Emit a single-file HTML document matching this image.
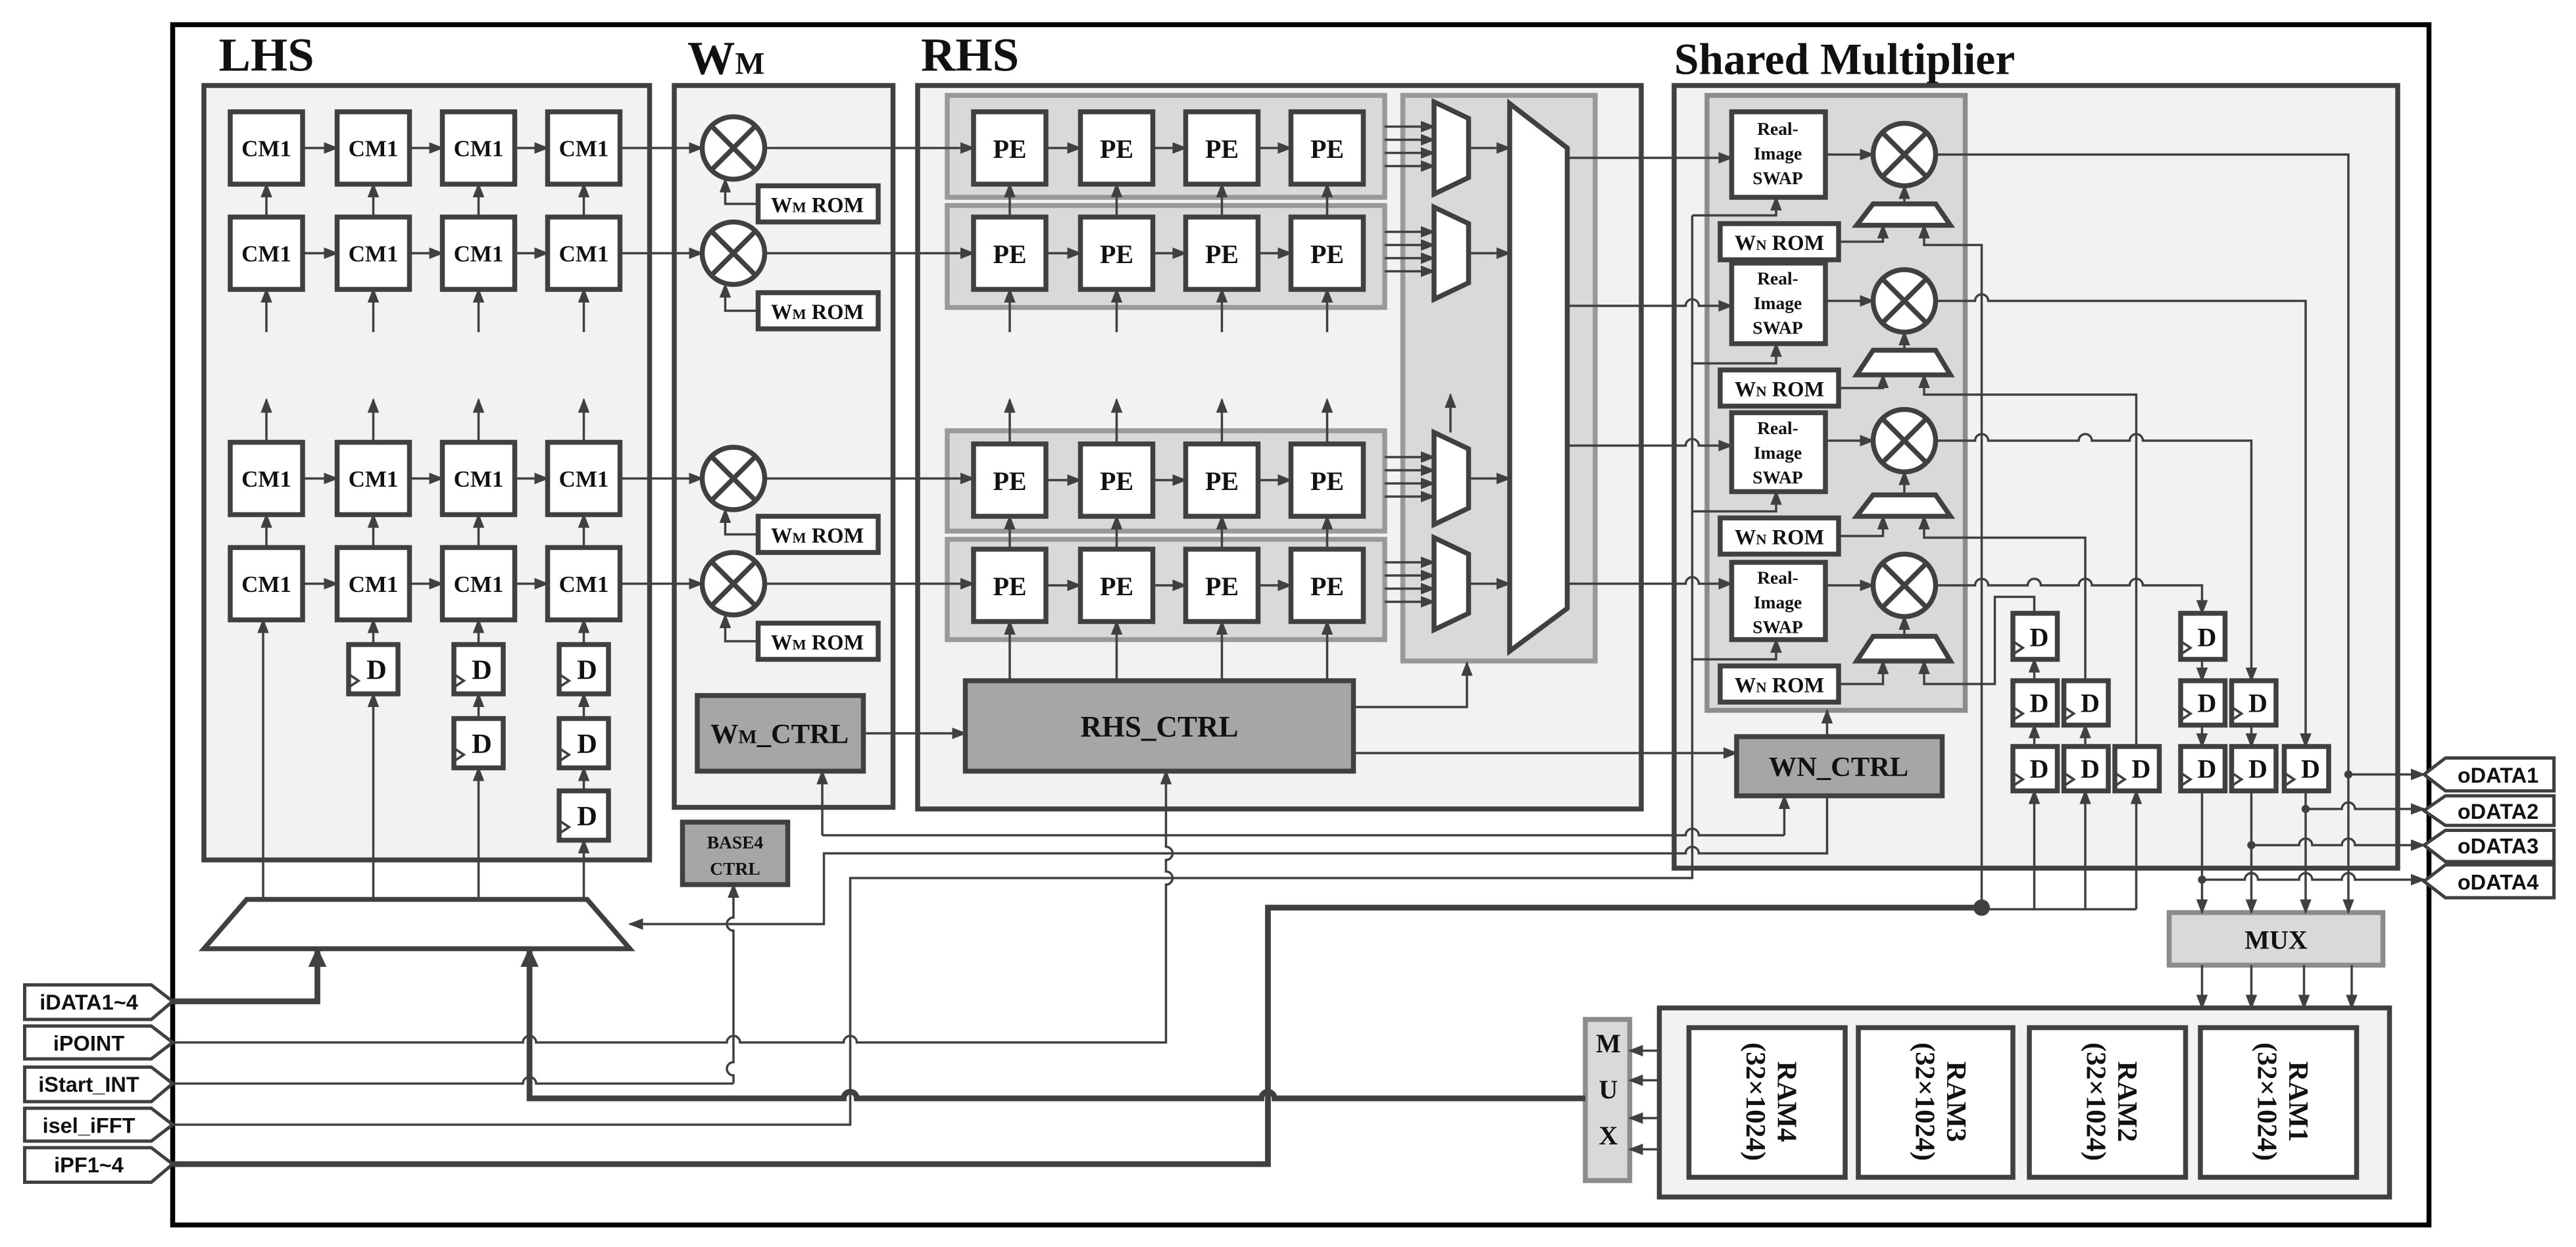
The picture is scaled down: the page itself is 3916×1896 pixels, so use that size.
<!DOCTYPE html>
<html><head><meta charset="utf-8"><style>
html,body{margin:0;padding:0;background:#fff}
svg{display:block}
text{font-family:"Liberation Serif",serif;font-weight:bold;fill:#111}
.s{font-family:"Liberation Sans",sans-serif}
</style></head><body>
<svg width="3916" height="1896" viewBox="0 0 1566.4 758.4" xmlns="http://www.w3.org/2000/svg">
<defs>
<marker id="a" markerWidth="9" markerHeight="8" refX="8" refY="4" orient="auto" markerUnits="userSpaceOnUse"><path d="M0,0.5 L9,4 L0,7.5 z" fill="#404040"/></marker>
<marker id="b" markerWidth="12" markerHeight="12" refX="11" refY="6" orient="auto" markerUnits="userSpaceOnUse"><path d="M0,0.5 L12,6 L0,11.5 z" fill="#404040"/></marker>
</defs>
<rect x="105" y="15" width="1372" height="730" fill="#fff" stroke="#000" stroke-width="3"/>
<text x="133" y="43" font-size="29">LHS</text>
<text x="418" y="45" font-size="29">W<tspan font-size="19">M</tspan></text>
<text x="560" y="43" font-size="29">RHS</text>
<text x="1018" y="45" font-size="27">Shared Multiplier</text>

<g stroke="#404040" stroke-width="3" fill="#f2f2f2">
<rect x="124" y="52" width="271" height="471"/>
<rect x="410" y="52" width="133" height="439"/>
<rect x="558" y="52" width="440" height="440"/>
<rect x="1018" y="52" width="440" height="476"/>
<rect x="1009" y="613" width="444" height="115"/>
</g>
<g stroke="#999" stroke-width="3" fill="#d9d9d9">
<rect x="576" y="58" width="266" height="62"/>
<rect x="576" y="125" width="266" height="62"/>
<rect x="576" y="262" width="266" height="61"/>
<rect x="576" y="328" width="266" height="61"/>
<rect x="853" y="58" width="117" height="344"/>
<rect x="1038" y="58" width="157" height="374" stroke="#8c8c8c"/>
<rect x="1319" y="555" width="130" height="32" stroke="#8c8c8c"/>
<rect x="964" y="620" width="27" height="98" stroke="#8c8c8c"/>
</g>

<g stroke="#404040" stroke-width="1.4" fill="none" marker-end="url(#a)">
<path d="M184,90H205"/><path d="M249,90H269"/><path d="M313,90H333"/>
<path d="M184,154H205"/><path d="M249,154H269"/><path d="M313,154H333"/>
<path d="M184,291H205"/><path d="M249,291H269"/><path d="M313,291H333"/>
<path d="M184,355H205"/><path d="M249,355H269"/><path d="M313,355H333"/>
<path d="M162,132V112"/><path d="M227,132V112"/><path d="M291,132V112"/><path d="M355,132V112"/>
<path d="M162,202V176"/><path d="M227,202V176"/><path d="M291,202V176"/><path d="M355,202V176"/>
<path d="M162,269V243"/><path d="M227,269V243"/><path d="M291,269V243"/><path d="M355,269V243"/>
<path d="M162,333V313"/><path d="M227,333V313"/><path d="M291,333V313"/><path d="M355,333V313"/>
<path d="M160,547V377"/><path d="M227,547V422"/><path d="M227,392V377"/>
<path d="M291,547V467"/><path d="M291,437V422"/><path d="M291,392V377"/>
<path d="M355,547V511"/><path d="M355,481V467"/><path d="M355,437V422"/><path d="M355,392V377"/>
<path d="M377,90H427"/><path d="M377,154H427"/><path d="M377,291H427"/><path d="M377,355H427"/>
<path d="M461,124H441V109"/><path d="M461,189H441V173"/><path d="M461,325H441V310"/><path d="M461,390H441V374"/>
<path d="M465,90H592"/><path d="M465,154H592"/><path d="M465,291H592"/><path d="M465,355H592"/>
<path d="M636,90H657"/><path d="M701,90H721"/><path d="M765,90H785"/>
<path d="M636,154H657"/><path d="M701,154H721"/><path d="M765,154H785"/>
<path d="M636,292H657"/><path d="M701,292H721"/><path d="M765,292H785"/>
<path d="M636,356H657"/><path d="M701,356H721"/><path d="M765,356H785"/>
<path d="M614,132V112"/><path d="M679,132V112"/><path d="M743,132V112"/><path d="M807,132V112"/>
<path d="M614,202V176"/><path d="M679,202V176"/><path d="M743,202V176"/><path d="M807,202V176"/>
<path d="M614,270V243"/><path d="M679,270V243"/><path d="M743,270V243"/><path d="M807,270V243"/>
<path d="M614,334V314"/><path d="M679,334V314"/><path d="M743,334V314"/><path d="M807,334V314"/>
<path d="M614,414V378"/><path d="M679,414V378"/><path d="M743,414V378"/><path d="M807,414V378"/>
<path d="M842,77H872"/><path d="M842,85H872"/><path d="M842,93H872"/><path d="M842,101H872"/>
<path d="M842,141H872"/><path d="M842,149H872"/><path d="M842,157H872"/><path d="M842,165H872"/>
<path d="M842,278H872"/><path d="M842,286H872"/><path d="M842,294H872"/><path d="M842,302H872"/>
<path d="M842,342H872"/><path d="M842,350H872"/><path d="M842,358H872"/><path d="M842,366H872"/>
<path d="M893,90H918"/><path d="M893,154H918"/><path d="M893,291H918"/><path d="M893,355H918"/>
<path d="M882,263V240"/><path d="M823,430H892V403"/>
<path d="M953,96H1053"/><path d="M953,186H1025a4,4 0 0 1 8,0H1053"/><path d="M953,271H1025a4,4 0 0 1 8,0H1053"/><path d="M953,355H1025a4,4 0 0 1 8,0H1053"/>
<path d="M525,446H587"/>
<path d="M446,659V654a4,4 0 0 1 0,-8V566a4,4 0 0 1 0,-8V538"/>
<path d="M105,634H318a4,4 0 0 1 8,0H442a4,4 0 0 1 8,0H513a4,4 0 0 1 8,0H709V538a4,4 0 0 0 0,-8V523a4,4 0 0 0 0,-8V469"/>
<path d="M105,659H318a4,4 0 0 1 8,0H446" marker-end="none"/>
<path d="M105,684H517V534H1029V131" marker-end="none"/>
<path d="M1029,131H1080V120"/><path d="M1029,221H1080V209"/><path d="M1029,311H1080V299"/><path d="M1029,401H1080V389"/>
<path d="M1085,508H1033a4,4 0 0 0 -8,0H500" marker-end="none"/>
<path d="M500,508V469"/>
<path d="M1085,508V484"/>
<path d="M1111,484V519H1033a4,4 0 0 0 -8,0H501V562H383"/>
<path d="M823,458H1056"/><path d="M1111,448V432"/>
<path d="M1110,94H1139"/><path d="M1110,183H1139"/><path d="M1110,268H1139"/><path d="M1110,356H1139"/>
<path d="M1158,124V113"/><path d="M1158,213V202"/><path d="M1158,301V287"/><path d="M1158,387V375"/>
<path d="M1118,147H1145V137"/><path d="M1118,236H1145V228"/><path d="M1118,326H1145V314"/><path d="M1118,416H1145V402"/>
<path d="M1205,552V149H1170V137"/>
<path d="M1299,553V481"/><path d="M1299,454V240H1170V228"/>
<path d="M1268,553V481"/><path d="M1268,454V441"/><path d="M1268,414V327H1170V314"/>
<path d="M1237,553V481"/><path d="M1237,454V441"/><path d="M1237,414V401"/><path d="M1237,373V363H1213V416H1170V402"/>
<path d="M1177,94H1428V555"/>
<path d="M1177,183H1201a4,4 0 0 1 8,0H1402V454"/><path d="M1402,481V555"/>
<path d="M1177,268H1201a4,4 0 0 1 8,0H1264a4,4 0 0 1 8,0H1295a4,4 0 0 1 8,0H1369V414"/><path d="M1369,441V454"/><path d="M1369,481V555"/>
<path d="M1177,356H1201a4,4 0 0 1 8,0H1233a4,4 0 0 1 8,0H1264a4,4 0 0 1 8,0H1295a4,4 0 0 1 8,0H1339V373"/><path d="M1339,401V414"/><path d="M1339,441V454"/><path d="M1339,481V555"/>
<path d="M1428,471H1474"/><path d="M1402,492H1424a4,4 0 0 1 8,0H1474"/><path d="M1369,514H1398a4,4 0 0 1 8,0H1424a4,4 0 0 1 8,0H1474"/><path d="M1339,535H1365a4,4 0 0 1 8,0H1398a4,4 0 0 1 8,0H1424a4,4 0 0 1 8,0H1474"/>
<path d="M1339,587V613"/><path d="M1369,587V613"/><path d="M1401,587V613"/><path d="M1430,587V613"/>
<path d="M1009,639H991"/><path d="M1009,657H991"/><path d="M1009,680H991"/><path d="M1009,699H991"/>
</g>
<g fill="#404040"><circle cx="1428" cy="471" r="2.5"/><circle cx="1402" cy="492" r="2.5"/><circle cx="1369" cy="514" r="2.5"/><circle cx="1339" cy="535" r="2.5"/><circle cx="1205" cy="552" r="5"/></g>
<g stroke="#404040" stroke-width="3.5" fill="none" marker-end="url(#b)">
<path d="M105,609H193V577"/>
<path d="M964,668H775a4,4 0 0 0 -8,0H521a4,4 0 0 0 -8,0H322V577"/>
<path d="M105,708H771V552H1205" marker-end="none"/>
</g>
<path d="M1205,553H1299" stroke="#404040" stroke-width="1.4"/>

<polygon points="150,547 357,547 383,577 124,577" fill="#fff" stroke="#404040" stroke-width="3"/>
<g stroke="#404040" stroke-width="3" fill="#fff">
<rect x="140" y="68" width="44" height="44"/><rect x="205" y="68" width="44" height="44"/><rect x="269" y="68" width="44" height="44"/><rect x="333" y="68" width="44" height="44"/>
<rect x="140" y="132" width="44" height="44"/><rect x="205" y="132" width="44" height="44"/><rect x="269" y="132" width="44" height="44"/><rect x="333" y="132" width="44" height="44"/>
<rect x="140" y="269" width="44" height="44"/><rect x="205" y="269" width="44" height="44"/><rect x="269" y="269" width="44" height="44"/><rect x="333" y="269" width="44" height="44"/>
<rect x="140" y="333" width="44" height="44"/><rect x="205" y="333" width="44" height="44"/><rect x="269" y="333" width="44" height="44"/><rect x="333" y="333" width="44" height="44"/>
<rect x="592" y="68" width="44" height="44"/><rect x="657" y="68" width="44" height="44"/><rect x="721" y="68" width="44" height="44"/><rect x="785" y="68" width="44" height="44"/>
<rect x="592" y="132" width="44" height="44"/><rect x="657" y="132" width="44" height="44"/><rect x="721" y="132" width="44" height="44"/><rect x="785" y="132" width="44" height="44"/>
<rect x="592" y="270" width="44" height="44"/><rect x="657" y="270" width="44" height="44"/><rect x="721" y="270" width="44" height="44"/><rect x="785" y="270" width="44" height="44"/>
<rect x="592" y="334" width="44" height="44"/><rect x="657" y="334" width="44" height="44"/><rect x="721" y="334" width="44" height="44"/><rect x="785" y="334" width="44" height="44"/>
<rect x="212" y="392" width="30" height="30"/><rect x="276" y="392" width="30" height="30"/><rect x="276" y="437" width="30" height="30"/><rect x="340" y="392" width="30" height="30"/><rect x="340" y="437" width="30" height="30"/><rect x="340" y="481" width="30" height="30"/>
<rect x="1224" y="373" width="27" height="28"/><rect x="1224" y="414" width="27" height="27"/><rect x="1255" y="414" width="27" height="27"/><rect x="1224" y="454" width="27" height="27"/><rect x="1255" y="454" width="27" height="27"/><rect x="1286" y="454" width="27" height="27"/>
<rect x="1326" y="373" width="27" height="28"/><rect x="1326" y="414" width="27" height="27"/><rect x="1357" y="414" width="27" height="27"/><rect x="1326" y="454" width="27" height="27"/><rect x="1357" y="454" width="27" height="27"/><rect x="1389" y="454" width="27" height="27"/>
<rect x="461" y="113" width="73" height="22"/><rect x="461" y="178" width="73" height="22"/><rect x="461" y="314" width="73" height="22"/><rect x="461" y="379" width="73" height="22"/>
<rect x="1046" y="136" width="72" height="22"/><rect x="1046" y="225" width="72" height="22"/><rect x="1046" y="315" width="72" height="22"/><rect x="1046" y="405" width="72" height="22"/>
<rect x="1053" y="68" width="57" height="52"/><rect x="1053" y="160" width="57" height="49"/><rect x="1053" y="251" width="57" height="48"/><rect x="1053" y="342" width="57" height="47"/>
<rect x="1027" y="625" width="95" height="91"/><rect x="1130" y="625" width="94" height="91"/><rect x="1234" y="625" width="95" height="91"/><rect x="1338" y="625" width="95" height="91"/>
<polygon points="872,62 893,72 893,108 872,118"/><polygon points="872,126 893,136 893,172 872,182"/><polygon points="872,263 893,273 893,309 872,319"/><polygon points="872,327 893,337 893,373 872,383"/>
<polygon points="918,63 953,90 953,370 918,396"/>
<polygon points="1139,124 1177,124 1186,137 1129,137"/><polygon points="1139,213 1177,213 1186,228 1129,228"/><polygon points="1139,301 1177,301 1186,314 1129,314"/><polygon points="1139,387 1177,387 1186,402 1129,402"/>
<circle cx="446" cy="90" r="19"/><circle cx="446" cy="154" r="19"/><circle cx="446" cy="291" r="19"/><circle cx="446" cy="355" r="19"/>
<circle cx="1158" cy="94" r="19"/><circle cx="1158" cy="183" r="19"/><circle cx="1158" cy="268" r="19"/><circle cx="1158" cy="356" r="19"/>
</g>
<g stroke="#404040" stroke-width="3">
<path d="M433,77l26,26M459,77l-26,26M433,141l26,26M459,141l-26,26M433,278l26,26M459,278l-26,26M433,342l26,26M459,342l-26,26"/>
<path d="M1145,81l26,26M1171,81l-26,26M1145,170l26,26M1171,170l-26,26M1145,255l26,26M1171,255l-26,26M1145,343l26,26M1171,343l-26,26"/>
</g>
<g stroke="#404040" stroke-width="1.5" fill="none">
<path d="M212,410l6,4l-6,4M276,410l6,4l-6,4M276,455l6,4l-6,4M340,410l6,4l-6,4M340,455l6,4l-6,4M340,499l6,4l-6,4"/>
<path d="M1224,390l6,4l-6,4M1224,430l6,4l-6,4M1255,430l6,4l-6,4M1224,470l6,4l-6,4M1255,470l6,4l-6,4M1286,470l6,4l-6,4M1326,390l6,4l-6,4M1326,430l6,4l-6,4M1357,430l6,4l-6,4M1326,470l6,4l-6,4M1357,470l6,4l-6,4M1389,470l6,4l-6,4"/>
</g>
<g stroke="#404040" stroke-width="3" fill="#a6a6a6">
<rect x="587" y="414" width="236" height="55"/>
<rect x="424" y="423" width="101" height="46"/>
<rect x="415" y="500" width="64" height="38"/>
<rect x="1056" y="448" width="125" height="36"/>
</g>
<g stroke="#404040" stroke-width="2" fill="#fff">
<polygon points="15,599 92,599 105,609 92,620 15,620"/>
<polygon points="15,624 92,624 105,634 92,644 15,644"/>
<polygon points="15,649 92,649 105,659 92,670 15,670"/>
<polygon points="15,674 92,674 105,684 92,694 15,694"/>
<polygon points="15,698 92,698 105,708 92,719 15,719"/>
<polygon points="1474,471 1487,461 1553,461 1553,481 1487,481"/>
<polygon points="1474,493 1487,484 1553,484 1553,502 1487,502"/>
<polygon points="1474,514 1487,505 1553,505 1553,524 1487,524"/>
<polygon points="1474,536 1487,526 1553,526 1553,546 1487,546"/>
</g>
<g font-size="14" text-anchor="middle">
<text x="162" y="95">CM1</text><text x="227" y="95">CM1</text><text x="291" y="95">CM1</text><text x="355" y="95">CM1</text>
<text x="162" y="159">CM1</text><text x="227" y="159">CM1</text><text x="291" y="159">CM1</text><text x="355" y="159">CM1</text>
<text x="162" y="296">CM1</text><text x="227" y="296">CM1</text><text x="291" y="296">CM1</text><text x="355" y="296">CM1</text>
<text x="162" y="360">CM1</text><text x="227" y="360">CM1</text><text x="291" y="360">CM1</text><text x="355" y="360">CM1</text>
</g>
<g font-size="16" text-anchor="middle">
<text x="614" y="96">PE</text><text x="679" y="96">PE</text><text x="743" y="96">PE</text><text x="807" y="96">PE</text>
<text x="614" y="160">PE</text><text x="679" y="160">PE</text><text x="743" y="160">PE</text><text x="807" y="160">PE</text>
<text x="614" y="298">PE</text><text x="679" y="298">PE</text><text x="743" y="298">PE</text><text x="807" y="298">PE</text>
<text x="614" y="362">PE</text><text x="679" y="362">PE</text><text x="743" y="362">PE</text><text x="807" y="362">PE</text>
</g>
<g font-size="17" text-anchor="middle">
<text x="229" y="413">D</text><text x="293" y="413">D</text><text x="293" y="458">D</text><text x="357" y="413">D</text><text x="357" y="458">D</text><text x="357" y="502">D</text>
</g>
<g font-size="16" text-anchor="middle">
<text x="1240" y="393">D</text><text x="1240" y="433">D</text><text x="1271" y="433">D</text><text x="1240" y="473">D</text><text x="1271" y="473">D</text><text x="1302" y="473">D</text>
<text x="1342" y="393">D</text><text x="1342" y="433">D</text><text x="1373" y="433">D</text><text x="1342" y="473">D</text><text x="1373" y="473">D</text><text x="1405" y="473">D</text>
</g>
<g font-size="13" text-anchor="middle">
<text x="497" y="129">W<tspan font-size="9">M</tspan> ROM</text><text x="497" y="194">W<tspan font-size="9">M</tspan> ROM</text><text x="497" y="330">W<tspan font-size="9">M</tspan> ROM</text><text x="497" y="395">W<tspan font-size="9">M</tspan> ROM</text>
<text x="1082" y="152">W<tspan font-size="9">N</tspan> ROM</text><text x="1082" y="241">W<tspan font-size="9">N</tspan> ROM</text><text x="1082" y="331">W<tspan font-size="9">N</tspan> ROM</text><text x="1082" y="421">W<tspan font-size="9">N</tspan> ROM</text>
</g>
<g font-size="11" text-anchor="middle">
<text x="1081" y="82">Real-</text><text x="1081" y="97">Image</text><text x="1081" y="112">SWAP</text>
<text x="1081" y="173">Real-</text><text x="1081" y="188">Image</text><text x="1081" y="203">SWAP</text>
<text x="1081" y="264">Real-</text><text x="1081" y="279">Image</text><text x="1081" y="294">SWAP</text>
<text x="1081" y="355">Real-</text><text x="1081" y="370">Image</text><text x="1081" y="385">SWAP</text>
</g>
<text x="705" y="448" font-size="18" text-anchor="middle">RHS_CTRL</text>
<text x="474" y="452" font-size="17" text-anchor="middle">W<tspan font-size="12">M</tspan>_CTRL</text>
<text x="447" y="516" font-size="11" text-anchor="middle">BASE4</text>
<text x="447" y="532" font-size="11" text-anchor="middle">CTRL</text>
<text x="1118" y="472" font-size="17" text-anchor="middle">WN_CTRL</text>
<text x="1384" y="577" font-size="16" text-anchor="middle">MUX</text>
<g font-size="16" text-anchor="middle"><text x="978" y="640">M</text><text x="978" y="668">U</text><text x="978" y="696">X</text></g>
<g font-size="17" text-anchor="middle">
<text transform="translate(1081,670) rotate(90)">RAM4</text><text transform="translate(1062,670) rotate(90)">(32×1024)</text>
<text transform="translate(1184,670) rotate(90)">RAM3</text><text transform="translate(1165,670) rotate(90)">(32×1024)</text>
<text transform="translate(1288,670) rotate(90)">RAM2</text><text transform="translate(1269,670) rotate(90)">(32×1024)</text>
<text transform="translate(1392,670) rotate(90)">RAM1</text><text transform="translate(1373,670) rotate(90)">(32×1024)</text>
</g>
<g font-size="13" text-anchor="middle">
<text class="s" x="54" y="614">iDATA1~4</text><text class="s" x="54" y="639">iPOINT</text><text class="s" x="54" y="664">iStart_INT</text><text class="s" x="54" y="689">isel_iFFT</text><text class="s" x="54" y="713">iPF1~4</text>
<text class="s" x="1519" y="476">oDATA1</text><text class="s" x="1519" y="498">oDATA2</text><text class="s" x="1519" y="519">oDATA3</text><text class="s" x="1519" y="541">oDATA4</text>
</g>
</svg>
</body></html>
